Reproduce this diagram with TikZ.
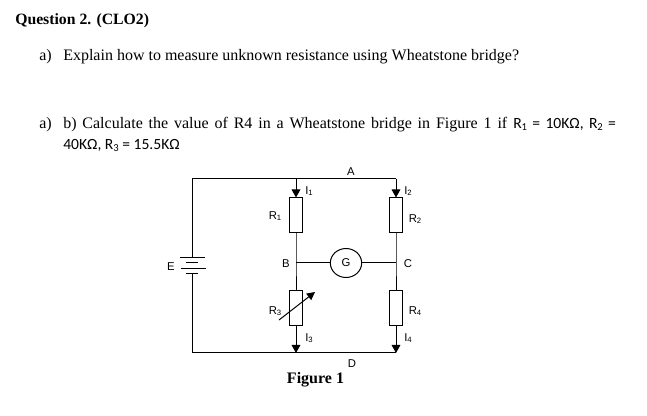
\documentclass[tikz,border=0pt]{standalone}
\usepackage{fontspec}
\setmainfont{Liberation Serif}
\newfontfamily\lsans{Liberation Sans}
\newfontfamily\carl{Carlito}
\usetikzlibrary{arrows.meta,shapes.geometric}
\tikzset{
  x=0.75pt,y=-0.75pt,
  wire/.style={line width=0.75pt,black},
  res/.style={draw,line width=0.75pt,fill=white,minimum width=10pt,minimum height=26.25pt,inner sep=0pt},
  gal/.style={draw,ellipse,line width=0.75pt,fill=white,minimum width=23.5pt,minimum height=21.75pt,inner sep=0pt,font=\lsans\fontsize{8.5}{9}\selectfont},
  lab/.style={inner sep=0pt,font=\lsans\fontsize{8.5}{9}\selectfont},
  cur/.style={-{Triangle[length=6pt,width=6.5pt]},line width=0.75pt},
  txt/.style={anchor=base west,inner sep=0pt,font=\fontsize{12}{13}\selectfont},
  cal/.style={anchor=base west,inner sep=0pt,font=\carl\fontsize{11.7}{13}\selectfont},
}
\newcommand{\subsc}[1]{\raisebox{-0.2ex}{\scalebox{0.68}{#1}}}
\begin{document}
\begin{tikzpicture}
\useasboundingbox (0,0) rectangle (647,416);
% texts
\node[txt,font=\bfseries\fontsize{11.8}{13}\selectfont] (q) at (15,25) {Question 2. (CLO2)};
\node[txt] (a1) at (39,61) {a)};
\node[txt] (a1t) at (63,61) {Explain how to measure unknown resistance using Wheatstone bridge?};
\node[txt] (a2) at (39,129) {a)};
\node[txt] (a2t) at (63,129) {\makebox[333pt][s]{b) Calculate the value of R4 in a Wheatstone bridge in Figure 1 if}};
\node[cal] (a2r) at (513,129) {\makebox[77pt][s]{R\subsc{1} = 10KΩ, R\subsc{2} =}};
\node[cal] (a3) at (63,150) {40KΩ, R\subsc{3} = 15.5KΩ};
\node[txt,font=\bfseries\fontsize{12}{13}\selectfont,anchor=base] (fig) at (315.5,384) {Figure 1};
% coordinates
\coordinate (tl) at (192,179);
\coordinate (tm) at (296,179);
\coordinate (tr) at (396,179);
\coordinate (bl) at (192,353);
\coordinate (bm) at (296,353);
\coordinate (br) at (396,353);
\coordinate (batT) at (192,258);
\coordinate (batB) at (192,274);
\node[res] (R1) at (296,215.5) {};
\node[res] (R2) at (396,215.5) {};
\node[res] (R3) at (296,308.5) {};
\node[res] (R4) at (396,308.5) {};
\node[gal] (G) at (346,263) {G};
\coordinate (B) at (296,263);
\coordinate (C) at (396,263);
% wires
\draw[wire] (batT) -- (tl) -- (tr);
\draw[wire] (batB) -- (bl) -- (br);
\draw[cur] (tm) -- (R1.north);
\draw[cur] (tr) -- (R2.north);
\draw[wire] (R1) -- (B) -- (R3);
\draw[wire] (R2) -- (C) -- (R4);
\draw[wire] (B) -- (G) -- (C);
\draw[cur] (R3.south) -- (bm);
\draw[cur] (R4.south) -- (br);
% battery
\coordinate (p1a) at (180,258); \coordinate (p1b) at (205,258);
\coordinate (p2a) at (186,263); \coordinate (p2b) at (198,263);
\coordinate (p3a) at (181,269); \coordinate (p3b) at (206,269);
\coordinate (p4a) at (186,274); \coordinate (p4b) at (198,274);
\draw[wire] (p1a) -- (p1b);
\draw[wire] (p2a) -- (p2b);
\draw[wire] (p3a) -- (p3b);
\draw[wire] (p4a) -- (p4b);
% variable arrow
\coordinate (v1) at (279,320);
\coordinate (v2) at (315,292);
\draw[-{Triangle[length=6pt,width=6pt]},line width=0.75pt] (v1) -- (v2);
% labels
\node[lab] (E) at (171,267) {E};
\node[lab] (A) at (351,172) {A};
\node[lab] (Bl) at (286,264) {B};
\node[lab] (Cl) at (408,264) {C};
\node[lab] (D) at (352,364) {D};
\node[lab] (R1l) at (275,216) {R\subsc{1}};
\node[lab] (R2l) at (415,219) {R\subsc{2}};
\node[lab] (R3l) at (275,311) {R\subsc{3}};
\node[lab] (R4l) at (415,311) {R\subsc{4}};
\node[lab] (I1) at (309,191) {I\subsc{1}};
\node[lab] (I2) at (408,191) {I\subsc{2}};
\node[lab] (I3) at (309,338) {I\subsc{3}};
\node[lab] (I4) at (408,338) {I\subsc{4}};
\end{tikzpicture}
\end{document}
